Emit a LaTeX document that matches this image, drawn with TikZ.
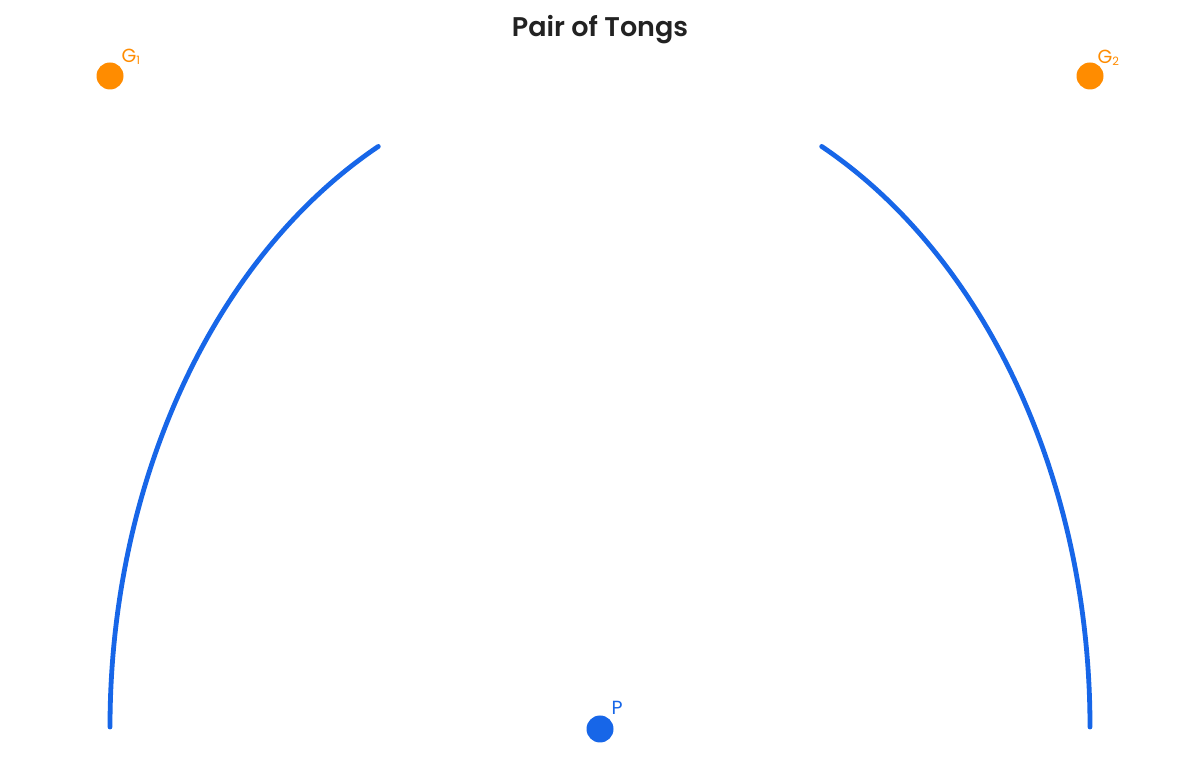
\documentclass[tikz,border=0pt]{standalone}
\usepackage{fontspec}
\setmainfont{Poppins}
\newfontfamily\titlefont[UprightFont=* SemiBold]{Poppins}
\definecolor{armblue}{HTML}{1766E8}
\definecolor{gorange}{HTML}{FF8C00}
\definecolor{titlegray}{HTML}{222222}
\begin{document}
\begin{tikzpicture}[x=1pt,y=1pt,
  arm/.style={draw=armblue,line width=4.8pt,line cap=round},
  gdot/.style={circle,fill=gorange,minimum size=27pt,inner sep=0pt},
  pdot/.style={circle,fill=armblue,minimum size=27pt,inner sep=0pt},
  lbl/.style={inner sep=0pt,anchor=base west,font=\fontsize{19}{19}\selectfont}]
\useasboundingbox[fill=white] (0,0) rectangle (1200,763);
\node[font=\titlefont\fontsize{27}{27}\selectfont,text=titlegray,anchor=base,inner sep=0pt] (title) at (600,726.5) {Pair of Tongs};
\node[gdot] (G1) at (110,687) {};
\node[gdot] (G2) at (1090,687) {};
\node[pdot] (P) at (600,34) {};
\node[lbl,text=gorange] (G1l) at (121.5,700) {G\raisebox{-1.5pt}{\fontsize{11.5}{11.5}\selectfont 1}};
\node[lbl,text=gorange] (G2l) at (1097.5,699) {G\raisebox{-1.5pt}{\fontsize{11.5}{11.5}\selectfont 2}};
\node[lbl,text=armblue] (Pl) at (611.5,48) {P};
\coordinate (L0) at (110,36);
\coordinate (R0) at (1090,36);
\draw[arm] (L0) arc[start angle=180,end angle=116.9,x radius=490,y radius=651];
\draw[arm] (R0) arc[start angle=0,end angle=63.1,x radius=490,y radius=651];
\end{tikzpicture}
\end{document}
